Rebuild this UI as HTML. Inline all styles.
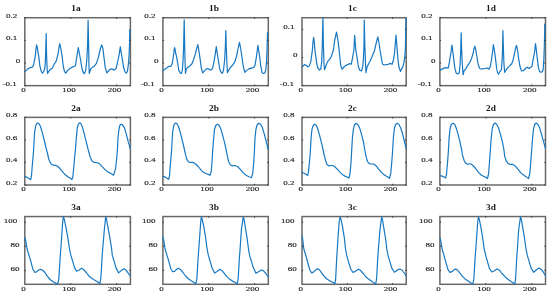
<!DOCTYPE html><html><head><meta charset="utf-8"><style>html,body{margin:0;padding:0;background:#fff;width:550px;height:295px;overflow:hidden}svg{display:block}text{font-family:"Liberation Serif",serif;fill:#1a1a1a;stroke:#1a1a1a;stroke-width:0.12px}text.t{stroke:none}</style></head><body>
<svg width="550" height="295" viewBox="0 0 550 295">
<rect width="550" height="295" fill="#fff"/><g>
<defs><clipPath id="c00"><rect x="24.20" y="17.13" width="106.80" height="69.13"/></clipPath><clipPath id="c01"><rect x="162.30" y="17.13" width="106.60" height="69.13"/></clipPath><clipPath id="c02"><rect x="301.40" y="17.13" width="105.40" height="69.13"/></clipPath><clipPath id="c03"><rect x="439.30" y="17.13" width="106.80" height="69.13"/></clipPath><clipPath id="c10"><rect x="24.20" y="116.76" width="106.80" height="68.84"/></clipPath><clipPath id="c11"><rect x="162.30" y="116.76" width="106.60" height="68.84"/></clipPath><clipPath id="c12"><rect x="301.40" y="116.76" width="105.40" height="68.84"/></clipPath><clipPath id="c13"><rect x="439.30" y="116.76" width="106.80" height="68.84"/></clipPath><clipPath id="c20"><rect x="24.20" y="215.95" width="106.80" height="68.95"/></clipPath><clipPath id="c21"><rect x="162.30" y="215.95" width="106.60" height="68.95"/></clipPath><clipPath id="c22"><rect x="301.40" y="215.95" width="105.40" height="68.95"/></clipPath><clipPath id="c23"><rect x="439.30" y="215.95" width="106.80" height="68.95"/></clipPath></defs>
<rect x="24.8" y="17.73" width="105.60" height="67.93" fill="none" stroke="#686868" stroke-width="1.5"/>
<polyline points="24.90,71.80 25.20,71.60 26.50,70.10 28.40,68.50 30.30,67.60 32.20,67.20 33.50,65.30 34.50,60.20 35.40,55.10 36.00,49.00 36.60,44.90 37.30,47.50 37.90,51.30 38.90,57.60 39.80,65.30 41.10,71.00 42.40,73.20 43.60,71.60 44.70,69.10 45.30,62.70 45.80,48.00 46.20,33.50 46.60,56.40 47.10,67.80 47.50,73.50 48.90,71.10 50.20,69.50 51.40,68.70 52.60,67.90 53.40,65.80 54.60,63.40 55.90,61.80 56.70,59.30 57.50,56.10 58.30,52.80 58.90,48.00 59.80,43.60 60.80,48.50 62.10,56.40 63.30,66.50 64.50,71.60 65.80,73.20 67.70,70.40 69.60,68.80 71.50,67.60 73.50,66.50 75.40,65.90 76.30,60.20 77.30,53.80 78.30,47.50 79.20,52.50 80.50,59.50 81.70,67.00 83.00,72.00 84.40,73.70 85.70,70.40 86.70,61.00 87.60,45.00 88.10,20.20 88.60,45.00 88.90,62.70 89.30,73.50 90.60,69.10 92.50,67.20 94.50,65.90 96.40,63.40 98.30,57.60 99.50,52.50 100.60,48.00 101.80,44.90 103.00,49.00 104.00,57.60 105.30,67.80 106.80,72.90 108.50,71.00 110.40,69.10 112.30,69.10 114.20,70.10 116.10,68.50 118.00,60.20 119.30,53.80 120.30,46.80 121.20,52.50 122.50,60.20 123.70,67.80 125.00,71.90 126.30,73.20 127.50,71.00 128.40,64.00 129.10,55.00 129.50,45.00 129.70,35.00 129.80,29.50" fill="none" stroke="#1778c2" stroke-width="1.2" stroke-linejoin="round" stroke-linecap="round" clip-path="url(#c00)"/>
<path d="M70.71,85.66v-1.2M70.71,17.73v1.2M116.63,85.66v-1.2M116.63,17.73v1.2M24.8,85.66h1.2M130.4,85.66h-1.2M24.8,63.02h1.2M130.4,63.02h-1.2M24.8,40.37h1.2M130.4,40.37h-1.2M24.8,17.73h1.2M130.4,17.73h-1.2" stroke="#1a1a1a" stroke-width="0.8" fill="none"/>
<text transform="translate(23.50,91.96) scale(1.43,1)" font-size="6.3" text-anchor="middle">0</text>
<text transform="translate(69.01,91.96) scale(1.43,1)" font-size="6.3" text-anchor="middle">100</text>
<text transform="translate(114.53,91.96) scale(1.43,1)" font-size="6.3" text-anchor="middle">200</text>
<text transform="translate(16.70,85.56) scale(1.43,1)" font-size="6.3" text-anchor="end">-0.1</text>
<text transform="translate(20.30,62.92) scale(1.43,1)" font-size="6.3" text-anchor="end">0</text>
<text transform="translate(17.30,40.27) scale(1.43,1)" font-size="6.3" text-anchor="end">0.1</text>
<text transform="translate(17.30,17.63) scale(1.43,1)" font-size="6.3" text-anchor="end">0.2</text>
<text class="t" transform="translate(75.90,10.93) scale(1.26,1)" font-size="7.4" text-anchor="middle" font-weight="bold">1a</text>
<rect x="162.9" y="17.73" width="105.40" height="67.93" fill="none" stroke="#686868" stroke-width="1.5"/>
<polyline points="162.90,70.60 163.20,70.40 165.10,69.10 167.00,67.80 168.90,66.30 170.80,66.50 172.10,64.00 173.00,58.90 173.70,53.80 174.20,49.50 174.60,47.50 175.10,49.50 175.50,52.50 176.50,56.40 177.60,62.70 178.80,70.40 180.40,73.20 181.30,73.50 182.30,70.40 182.90,62.70 183.60,48.00 184.20,19.80 184.70,48.00 185.10,62.70 185.50,73.50 186.30,69.10 188.00,67.20 189.90,65.90 191.80,64.00 193.30,60.20 195.00,55.10 196.30,50.00 197.80,44.70 198.80,50.00 200.10,58.90 201.30,68.00 202.70,72.90 204.50,70.80 206.40,68.80 207.80,68.50 209.80,69.70 211.50,70.00 212.70,67.80 214.00,61.50 215.30,53.80 216.30,46.60 217.20,53.00 218.40,60.50 219.60,68.50 220.90,72.00 222.30,73.30 223.50,70.40 224.60,60.20 225.30,48.00 225.80,30.50 226.30,48.00 226.90,62.70 227.40,72.70 228.60,70.40 230.50,67.20 232.50,65.30 234.40,62.70 236.00,58.30 237.30,52.50 238.20,48.00 239.50,42.40 240.70,48.50 242.00,57.60 243.30,66.50 244.80,72.30 246.50,70.60 248.40,69.10 250.90,68.10 253.50,67.60 255.00,65.30 256.30,57.60 257.30,50.00 257.90,45.30 258.60,50.00 259.80,57.60 260.80,66.50 262.10,72.70 263.60,73.50 264.90,72.90 265.90,69.10 266.60,60.20 267.00,50.00 267.30,40.00 267.50,32.50" fill="none" stroke="#1778c2" stroke-width="1.2" stroke-linejoin="round" stroke-linecap="round" clip-path="url(#c01)"/>
<path d="M208.73,85.66v-1.2M208.73,17.73v1.2M254.55,85.66v-1.2M254.55,17.73v1.2M162.9,85.66h1.2M268.3,85.66h-1.2M162.9,63.02h1.2M268.3,63.02h-1.2M162.9,40.37h1.2M268.3,40.37h-1.2M162.9,17.73h1.2M268.3,17.73h-1.2" stroke="#1a1a1a" stroke-width="0.8" fill="none"/>
<text transform="translate(161.60,91.96) scale(1.43,1)" font-size="6.3" text-anchor="middle">0</text>
<text transform="translate(207.03,91.96) scale(1.43,1)" font-size="6.3" text-anchor="middle">100</text>
<text transform="translate(252.45,91.96) scale(1.43,1)" font-size="6.3" text-anchor="middle">200</text>
<text transform="translate(154.80,85.56) scale(1.43,1)" font-size="6.3" text-anchor="end">-0.1</text>
<text transform="translate(158.40,62.92) scale(1.43,1)" font-size="6.3" text-anchor="end">0</text>
<text transform="translate(155.40,40.27) scale(1.43,1)" font-size="6.3" text-anchor="end">0.1</text>
<text transform="translate(155.40,17.63) scale(1.43,1)" font-size="6.3" text-anchor="end">0.2</text>
<text class="t" transform="translate(213.90,10.93) scale(1.26,1)" font-size="7.4" text-anchor="middle" font-weight="bold">1b</text>
<rect x="302.0" y="17.73" width="104.20" height="67.93" fill="none" stroke="#686868" stroke-width="1.5"/>
<polyline points="302.00,67.30 302.20,67.20 303.50,65.50 304.70,64.60 306.00,65.30 307.90,66.80 309.20,65.90 310.70,62.10 311.70,55.10 312.40,50.00 313.00,42.00 313.60,37.30 314.30,42.00 314.90,50.00 315.80,56.40 316.80,64.00 318.10,68.50 319.60,70.10 320.90,68.50 321.70,61.50 322.30,45.00 322.90,17.50 323.40,45.00 323.90,61.50 324.50,69.70 325.70,66.50 327.30,62.10 328.90,60.20 330.80,57.60 332.30,53.80 333.40,50.00 334.80,40.00 336.50,32.20 337.90,40.00 339.10,50.00 340.00,58.50 340.80,66.00 342.20,69.30 343.70,67.20 345.60,65.50 347.50,64.60 349.50,63.70 351.30,64.20 352.60,57.60 353.90,50.00 354.70,35.40 355.80,50.00 357.10,57.60 358.40,66.50 359.60,70.10 361.50,71.00 362.80,66.50 363.50,57.60 364.00,45.00 364.30,20.10 364.80,45.00 365.50,62.70 366.00,72.70 367.00,67.20 368.50,64.00 370.50,60.20 372.40,55.70 374.30,51.30 376.00,44.00 377.80,36.90 379.00,43.00 380.00,50.00 381.30,57.60 382.50,64.00 384.10,65.00 386.40,64.60 388.30,64.30 390.20,63.40 392.10,64.30 393.40,60.20 394.60,52.50 396.00,35.10 397.20,50.00 397.80,57.60 398.80,66.50 400.40,71.40 401.60,69.10 402.90,66.50 403.90,62.70 404.80,57.00 405.40,48.00 405.70,35.00 405.90,17.80" fill="none" stroke="#1778c2" stroke-width="1.2" stroke-linejoin="round" stroke-linecap="round" clip-path="url(#c02)"/>
<path d="M347.30,85.66v-1.2M347.30,17.73v1.2M392.61,85.66v-1.2M392.61,17.73v1.2M302.0,85.66h1.2M406.2,85.66h-1.2M302.0,57.47h1.2M406.2,57.47h-1.2M302.0,29.29h1.2M406.2,29.29h-1.2" stroke="#1a1a1a" stroke-width="0.8" fill="none"/>
<text transform="translate(300.70,91.96) scale(1.43,1)" font-size="6.3" text-anchor="middle">0</text>
<text transform="translate(345.60,91.96) scale(1.43,1)" font-size="6.3" text-anchor="middle">100</text>
<text transform="translate(390.51,91.96) scale(1.43,1)" font-size="6.3" text-anchor="middle">200</text>
<text transform="translate(293.90,85.56) scale(1.43,1)" font-size="6.3" text-anchor="end">-0.1</text>
<text transform="translate(297.50,57.37) scale(1.43,1)" font-size="6.3" text-anchor="end">0</text>
<text transform="translate(294.50,29.19) scale(1.43,1)" font-size="6.3" text-anchor="end">0.1</text>
<text class="t" transform="translate(352.40,10.93) scale(1.26,1)" font-size="7.4" text-anchor="middle" font-weight="bold">1c</text>
<rect x="439.9" y="17.73" width="105.60" height="67.93" fill="none" stroke="#686868" stroke-width="1.5"/>
<polyline points="439.90,70.30 440.20,70.10 442.10,69.10 444.00,68.10 445.90,67.60 448.20,68.10 449.10,64.00 450.10,57.60 451.00,52.50 451.50,48.00 451.90,45.20 452.40,48.00 452.90,52.50 453.90,60.20 454.80,67.80 456.10,72.90 457.70,73.90 459.30,72.70 460.20,62.70 460.80,48.00 461.20,32.80 461.60,48.00 462.20,62.70 463.10,74.80 464.00,71.00 465.60,69.10 467.50,65.90 469.50,62.70 471.40,58.90 473.00,53.80 473.90,49.00 474.80,46.20 475.80,50.00 477.10,58.00 478.30,65.00 479.70,68.50 480.90,69.00 482.50,68.90 484.60,68.50 487.00,68.00 489.10,69.10 490.40,66.00 491.60,59.00 492.70,51.00 493.40,44.70 494.50,51.00 495.50,58.50 496.50,67.50 497.50,72.50 498.60,74.20 499.90,71.60 501.40,69.70 502.10,60.20 502.60,48.00 502.90,30.50 503.40,48.00 503.90,62.70 504.60,72.30 506.30,69.70 508.20,67.20 510.10,65.30 511.60,64.00 512.90,60.80 514.20,55.10 515.40,49.00 516.50,45.30 517.50,50.00 518.70,58.90 520.00,66.50 521.50,71.00 523.50,70.60 525.40,68.50 527.30,67.20 528.90,68.50 530.50,67.20 532.00,66.50 533.00,60.20 534.30,53.80 535.00,48.00 535.50,43.60 536.10,48.00 536.60,52.50 537.50,60.20 538.50,67.80 539.60,71.60 541.30,72.30 542.50,71.50 543.20,69.00 543.80,60.00 544.30,47.00 544.60,35.00 544.70,24.00" fill="none" stroke="#1778c2" stroke-width="1.2" stroke-linejoin="round" stroke-linecap="round" clip-path="url(#c03)"/>
<path d="M485.81,85.66v-1.2M485.81,17.73v1.2M531.73,85.66v-1.2M531.73,17.73v1.2M439.9,85.66h1.2M545.5,85.66h-1.2M439.9,63.02h1.2M545.5,63.02h-1.2M439.9,40.37h1.2M545.5,40.37h-1.2M439.9,17.73h1.2M545.5,17.73h-1.2" stroke="#1a1a1a" stroke-width="0.8" fill="none"/>
<text transform="translate(438.60,91.96) scale(1.43,1)" font-size="6.3" text-anchor="middle">0</text>
<text transform="translate(484.11,91.96) scale(1.43,1)" font-size="6.3" text-anchor="middle">100</text>
<text transform="translate(529.63,91.96) scale(1.43,1)" font-size="6.3" text-anchor="middle">200</text>
<text transform="translate(431.80,85.56) scale(1.43,1)" font-size="6.3" text-anchor="end">-0.1</text>
<text transform="translate(435.40,62.92) scale(1.43,1)" font-size="6.3" text-anchor="end">0</text>
<text transform="translate(432.40,40.27) scale(1.43,1)" font-size="6.3" text-anchor="end">0.1</text>
<text transform="translate(432.40,17.63) scale(1.43,1)" font-size="6.3" text-anchor="end">0.2</text>
<text class="t" transform="translate(491.00,10.93) scale(1.26,1)" font-size="7.4" text-anchor="middle" font-weight="bold">1d</text>
<rect x="24.8" y="117.36" width="105.60" height="67.64" fill="none" stroke="#686868" stroke-width="1.5"/>
<polyline points="24.90,176.30 27.10,177.40 29.00,178.60 30.70,179.70 31.50,175.50 32.20,166.50 33.10,156.40 33.60,150.00 34.10,140.50 34.70,131.50 35.70,125.80 37.00,123.30 37.90,123.00 39.20,123.90 40.50,126.50 42.40,132.80 44.30,140.50 46.20,148.50 47.40,153.00 48.70,158.90 50.30,162.70 51.90,164.60 53.80,165.30 55.70,165.30 57.60,166.30 60.20,168.80 62.70,171.90 65.30,174.80 67.80,176.70 70.40,178.30 72.00,179.40 72.90,176.50 73.60,169.00 74.20,162.70 74.80,155.10 75.40,150.00 76.30,137.90 77.30,127.70 78.50,123.90 79.80,122.80 81.10,123.90 82.40,127.10 84.30,134.10 86.20,141.70 88.10,149.40 89.00,152.50 90.00,156.40 91.90,160.80 93.80,162.30 96.40,162.50 98.90,163.40 101.50,165.90 104.60,169.10 107.80,171.90 111.00,173.50 113.50,175.20 115.50,169.10 116.50,160.20 117.40,150.00 118.00,137.90 119.00,129.00 119.90,125.20 121.20,124.20 122.50,124.90 124.40,127.70 126.30,134.10 128.20,141.70 130.40,149.00" fill="none" stroke="#1778c2" stroke-width="1.2" stroke-linejoin="round" stroke-linecap="round" clip-path="url(#c10)"/>
<path d="M70.71,185.0v-1.2M70.71,117.36v1.2M116.63,185.0v-1.2M116.63,117.36v1.2M24.8,185.00h1.2M130.4,185.00h-1.2M24.8,162.45h1.2M130.4,162.45h-1.2M24.8,139.91h1.2M130.4,139.91h-1.2M24.8,117.36h1.2M130.4,117.36h-1.2" stroke="#1a1a1a" stroke-width="0.8" fill="none"/>
<text transform="translate(23.50,191.30) scale(1.43,1)" font-size="6.3" text-anchor="middle">0</text>
<text transform="translate(69.01,191.30) scale(1.43,1)" font-size="6.3" text-anchor="middle">100</text>
<text transform="translate(114.53,191.30) scale(1.43,1)" font-size="6.3" text-anchor="middle">200</text>
<text transform="translate(17.30,184.90) scale(1.43,1)" font-size="6.3" text-anchor="end">0.2</text>
<text transform="translate(17.30,162.35) scale(1.43,1)" font-size="6.3" text-anchor="end">0.4</text>
<text transform="translate(17.30,139.81) scale(1.43,1)" font-size="6.3" text-anchor="end">0.6</text>
<text transform="translate(17.30,117.26) scale(1.43,1)" font-size="6.3" text-anchor="end">0.8</text>
<text class="t" transform="translate(75.90,110.56) scale(1.26,1)" font-size="7.4" text-anchor="middle" font-weight="bold">2a</text>
<rect x="162.9" y="117.36" width="105.40" height="67.64" fill="none" stroke="#686868" stroke-width="1.5"/>
<polyline points="162.90,176.10 165.10,177.10 167.00,178.30 168.70,179.30 169.50,175.50 170.20,166.50 171.20,155.10 171.60,150.00 172.10,140.50 172.70,131.50 173.70,125.80 175.00,123.30 175.90,123.00 177.20,123.90 178.50,126.50 180.40,132.80 182.30,140.50 184.20,148.50 185.50,154.50 186.70,158.90 188.30,161.70 189.90,162.50 191.80,162.30 193.70,162.70 195.60,164.00 198.20,166.50 200.70,169.70 203.30,172.30 205.80,173.50 208.40,174.40 210.10,175.30 211.20,171.60 212.00,162.00 212.70,150.00 213.70,137.90 214.60,129.00 215.90,125.20 217.60,124.20 219.10,125.20 220.60,128.40 222.70,135.40 224.80,143.60 226.30,150.50 227.40,156.40 228.60,161.50 230.50,165.00 232.50,165.90 235.00,165.50 237.50,166.50 240.10,169.10 243.30,172.90 246.50,175.50 249.00,176.70 251.50,177.70 252.80,172.90 253.70,162.70 254.40,152.00 255.00,137.90 256.00,129.00 257.30,124.50 258.80,123.30 260.50,124.20 262.40,127.70 264.30,134.10 266.20,141.70 268.30,149.50" fill="none" stroke="#1778c2" stroke-width="1.2" stroke-linejoin="round" stroke-linecap="round" clip-path="url(#c11)"/>
<path d="M208.73,185.0v-1.2M208.73,117.36v1.2M254.55,185.0v-1.2M254.55,117.36v1.2M162.9,185.00h1.2M268.3,185.00h-1.2M162.9,162.45h1.2M268.3,162.45h-1.2M162.9,139.91h1.2M268.3,139.91h-1.2M162.9,117.36h1.2M268.3,117.36h-1.2" stroke="#1a1a1a" stroke-width="0.8" fill="none"/>
<text transform="translate(161.60,191.30) scale(1.43,1)" font-size="6.3" text-anchor="middle">0</text>
<text transform="translate(207.03,191.30) scale(1.43,1)" font-size="6.3" text-anchor="middle">100</text>
<text transform="translate(252.45,191.30) scale(1.43,1)" font-size="6.3" text-anchor="middle">200</text>
<text transform="translate(155.40,184.90) scale(1.43,1)" font-size="6.3" text-anchor="end">0.2</text>
<text transform="translate(155.40,162.35) scale(1.43,1)" font-size="6.3" text-anchor="end">0.4</text>
<text transform="translate(155.40,139.81) scale(1.43,1)" font-size="6.3" text-anchor="end">0.6</text>
<text transform="translate(155.40,117.26) scale(1.43,1)" font-size="6.3" text-anchor="end">0.8</text>
<text class="t" transform="translate(213.90,110.56) scale(1.26,1)" font-size="7.4" text-anchor="middle" font-weight="bold">2b</text>
<rect x="302.0" y="117.36" width="104.20" height="67.64" fill="none" stroke="#686868" stroke-width="1.5"/>
<polyline points="302.00,172.30 304.10,173.20 306.00,174.20 307.70,175.50 308.50,171.60 309.40,162.70 310.30,152.00 311.10,137.90 312.00,129.00 313.30,125.20 314.70,124.20 316.20,125.20 317.80,129.00 319.60,135.40 321.70,143.60 323.30,151.00 324.20,155.10 325.50,160.20 327.00,164.60 328.90,165.90 330.80,165.50 332.70,165.50 334.60,166.50 337.20,169.10 339.70,171.90 342.30,174.40 344.80,176.10 347.10,177.00 348.90,178.10 350.10,173.00 351.00,162.70 351.60,152.00 352.40,137.90 353.40,129.00 354.50,124.70 356.05,123.30 357.60,124.20 359.55,127.70 361.45,134.10 363.40,141.70 364.80,150.00 366.00,156.40 367.50,161.50 369.20,163.70 371.10,164.00 373.60,164.00 376.20,165.90 378.70,169.10 381.90,172.90 385.10,175.50 387.60,176.70 389.50,178.30 390.80,172.90 391.70,162.70 392.50,152.50 393.40,137.90 394.30,129.00 395.50,124.50 397.20,123.30 398.80,124.20 400.60,127.70 402.30,132.80 404.20,140.50 406.20,148.50" fill="none" stroke="#1778c2" stroke-width="1.2" stroke-linejoin="round" stroke-linecap="round" clip-path="url(#c12)"/>
<path d="M347.30,185.0v-1.2M347.30,117.36v1.2M392.61,185.0v-1.2M392.61,117.36v1.2M302.0,185.00h1.2M406.2,185.00h-1.2M302.0,162.45h1.2M406.2,162.45h-1.2M302.0,139.91h1.2M406.2,139.91h-1.2M302.0,117.36h1.2M406.2,117.36h-1.2" stroke="#1a1a1a" stroke-width="0.8" fill="none"/>
<text transform="translate(300.70,191.30) scale(1.43,1)" font-size="6.3" text-anchor="middle">0</text>
<text transform="translate(345.60,191.30) scale(1.43,1)" font-size="6.3" text-anchor="middle">100</text>
<text transform="translate(390.51,191.30) scale(1.43,1)" font-size="6.3" text-anchor="middle">200</text>
<text transform="translate(294.50,184.90) scale(1.43,1)" font-size="6.3" text-anchor="end">0.2</text>
<text transform="translate(294.50,162.35) scale(1.43,1)" font-size="6.3" text-anchor="end">0.4</text>
<text transform="translate(294.50,139.81) scale(1.43,1)" font-size="6.3" text-anchor="end">0.6</text>
<text transform="translate(294.50,117.26) scale(1.43,1)" font-size="6.3" text-anchor="end">0.8</text>
<text class="t" transform="translate(352.40,110.56) scale(1.26,1)" font-size="7.4" text-anchor="middle" font-weight="bold">2c</text>
<rect x="439.9" y="117.36" width="105.60" height="67.64" fill="none" stroke="#686868" stroke-width="1.5"/>
<polyline points="439.90,175.50 442.10,176.10 444.00,177.00 445.70,178.00 446.50,174.20 447.40,164.00 448.30,152.50 449.10,137.90 450.00,129.00 451.30,124.50 452.90,123.30 454.60,124.20 456.10,127.70 458.00,134.10 459.90,141.70 461.60,149.50 462.50,155.10 464.00,160.20 465.60,163.10 467.50,164.30 469.50,163.70 471.40,164.30 473.90,166.50 476.50,169.70 479.00,172.90 481.50,175.20 484.10,176.50 486.00,177.40 487.50,178.50 488.60,173.50 489.40,163.50 490.20,152.50 491.20,137.90 492.20,129.00 493.40,124.50 495.00,123.00 496.65,124.20 498.45,127.70 500.40,134.10 502.35,141.70 503.80,149.00 504.70,156.40 506.30,161.20 508.20,163.70 510.30,164.30 512.60,164.30 515.20,165.90 517.70,168.80 520.90,172.90 524.10,175.50 526.60,177.10 528.50,178.60 529.80,173.50 530.70,162.70 531.50,152.50 532.60,137.90 533.50,129.00 534.70,124.50 536.20,123.00 537.80,124.20 539.60,127.70 541.50,134.10 543.40,141.10 545.50,148.70" fill="none" stroke="#1778c2" stroke-width="1.2" stroke-linejoin="round" stroke-linecap="round" clip-path="url(#c13)"/>
<path d="M485.81,185.0v-1.2M485.81,117.36v1.2M531.73,185.0v-1.2M531.73,117.36v1.2M439.9,185.00h1.2M545.5,185.00h-1.2M439.9,162.45h1.2M545.5,162.45h-1.2M439.9,139.91h1.2M545.5,139.91h-1.2M439.9,117.36h1.2M545.5,117.36h-1.2" stroke="#1a1a1a" stroke-width="0.8" fill="none"/>
<text transform="translate(438.60,191.30) scale(1.43,1)" font-size="6.3" text-anchor="middle">0</text>
<text transform="translate(484.11,191.30) scale(1.43,1)" font-size="6.3" text-anchor="middle">100</text>
<text transform="translate(529.63,191.30) scale(1.43,1)" font-size="6.3" text-anchor="middle">200</text>
<text transform="translate(432.40,184.90) scale(1.43,1)" font-size="6.3" text-anchor="end">0.2</text>
<text transform="translate(432.40,162.35) scale(1.43,1)" font-size="6.3" text-anchor="end">0.4</text>
<text transform="translate(432.40,139.81) scale(1.43,1)" font-size="6.3" text-anchor="end">0.6</text>
<text transform="translate(432.40,117.26) scale(1.43,1)" font-size="6.3" text-anchor="end">0.8</text>
<text class="t" transform="translate(491.00,110.56) scale(1.26,1)" font-size="7.4" text-anchor="middle" font-weight="bold">2d</text>
<rect x="24.8" y="216.55" width="105.60" height="67.75" fill="none" stroke="#686868" stroke-width="1.5"/>
<polyline points="24.90,237.50 25.80,241.00 27.10,249.00 29.00,255.40 30.90,261.70 32.80,269.00 34.70,272.30 36.60,271.90 38.50,270.00 40.50,269.40 42.40,270.00 44.90,272.50 47.50,276.40 50.00,279.50 53.20,281.80 55.70,283.10 57.60,284.00 58.90,278.30 59.50,268.00 60.20,256.60 60.80,249.00 61.80,235.00 62.70,222.00 63.40,216.80 64.20,219.00 65.80,226.70 67.70,236.90 69.60,249.60 70.90,255.40 72.80,261.70 74.70,268.10 76.60,271.30 79.20,270.00 81.70,268.30 83.60,269.40 86.20,272.50 88.70,275.70 91.30,278.00 94.50,279.90 97.00,281.50 99.80,283.60 100.80,278.30 101.50,268.10 102.10,256.60 102.70,249.00 104.50,228.00 105.70,216.80 106.50,219.00 107.80,226.70 109.70,236.90 111.60,248.40 112.30,255.40 114.20,261.70 116.10,268.10 118.60,272.90 121.20,270.60 124.10,268.70 126.30,270.40 128.20,273.20 130.40,276.00" fill="none" stroke="#1778c2" stroke-width="1.2" stroke-linejoin="round" stroke-linecap="round" clip-path="url(#c20)"/>
<path d="M70.71,284.3v-1.2M70.71,216.55v1.2M116.63,284.3v-1.2M116.63,216.55v1.2M24.8,270.34h1.2M130.4,270.34h-1.2M24.8,246.27h1.2M130.4,246.27h-1.2M24.8,222.21h1.2M130.4,222.21h-1.2" stroke="#1a1a1a" stroke-width="0.8" fill="none"/>
<text transform="translate(23.50,290.60) scale(1.43,1)" font-size="6.3" text-anchor="middle">0</text>
<text transform="translate(69.01,290.60) scale(1.43,1)" font-size="6.3" text-anchor="middle">100</text>
<text transform="translate(114.53,290.60) scale(1.43,1)" font-size="6.3" text-anchor="middle">200</text>
<text transform="translate(19.50,270.74) scale(1.43,1)" font-size="6.3" text-anchor="end">60</text>
<text transform="translate(19.50,246.67) scale(1.43,1)" font-size="6.3" text-anchor="end">80</text>
<text transform="translate(17.30,222.61) scale(1.43,1)" font-size="6.3" text-anchor="end">100</text>
<text class="t" transform="translate(75.90,209.75) scale(1.26,1)" font-size="7.4" text-anchor="middle" font-weight="bold">3a</text>
<rect x="162.9" y="216.55" width="105.40" height="67.75" fill="none" stroke="#686868" stroke-width="1.5"/>
<polyline points="162.90,236.90 163.90,241.00 165.10,249.00 167.00,255.40 168.90,261.70 170.80,268.70 172.70,271.70 174.60,271.30 176.50,269.40 178.50,268.30 180.40,269.40 182.90,272.50 185.50,276.00 188.00,278.50 191.20,280.80 193.70,282.30 195.90,283.80 196.90,278.30 197.50,268.10 198.20,256.60 198.80,249.00 199.80,235.00 200.70,222.00 201.40,216.80 202.20,219.50 203.80,226.70 205.70,238.20 207.00,248.50 208.40,255.40 210.20,261.70 212.10,268.10 214.60,273.00 217.00,271.50 219.90,269.30 221.80,270.40 224.30,273.40 226.70,276.40 229.30,278.90 232.50,281.10 235.00,282.30 237.20,284.00 238.20,278.30 238.80,268.10 239.50,256.60 240.10,249.00 241.40,229.30 243.30,216.80 244.10,219.50 245.20,226.70 247.10,238.20 248.50,249.00 249.60,255.40 251.50,261.70 253.50,268.10 256.00,273.20 258.50,271.70 261.30,270.00 263.60,270.90 265.50,273.20 268.30,277.00" fill="none" stroke="#1778c2" stroke-width="1.2" stroke-linejoin="round" stroke-linecap="round" clip-path="url(#c21)"/>
<path d="M208.73,284.3v-1.2M208.73,216.55v1.2M254.55,284.3v-1.2M254.55,216.55v1.2M162.9,270.34h1.2M268.3,270.34h-1.2M162.9,246.27h1.2M268.3,246.27h-1.2M162.9,222.21h1.2M268.3,222.21h-1.2" stroke="#1a1a1a" stroke-width="0.8" fill="none"/>
<text transform="translate(161.60,290.60) scale(1.43,1)" font-size="6.3" text-anchor="middle">0</text>
<text transform="translate(207.03,290.60) scale(1.43,1)" font-size="6.3" text-anchor="middle">100</text>
<text transform="translate(252.45,290.60) scale(1.43,1)" font-size="6.3" text-anchor="middle">200</text>
<text transform="translate(157.60,270.74) scale(1.43,1)" font-size="6.3" text-anchor="end">60</text>
<text transform="translate(157.60,246.67) scale(1.43,1)" font-size="6.3" text-anchor="end">80</text>
<text transform="translate(155.40,222.61) scale(1.43,1)" font-size="6.3" text-anchor="end">100</text>
<text class="t" transform="translate(213.90,209.75) scale(1.26,1)" font-size="7.4" text-anchor="middle" font-weight="bold">3b</text>
<rect x="302.0" y="216.55" width="104.20" height="67.75" fill="none" stroke="#686868" stroke-width="1.5"/>
<polyline points="302.00,235.50 302.80,240.00 303.80,249.00 306.00,256.00 307.90,263.00 309.80,270.00 311.70,272.90 314.00,271.70 316.20,269.40 317.80,268.70 319.60,270.00 321.90,273.40 324.50,276.70 327.30,279.30 330.20,281.10 332.70,282.30 334.90,283.80 335.70,278.30 336.20,268.10 336.80,256.60 337.30,249.00 338.20,235.00 339.20,222.00 340.10,216.80 341.00,219.50 342.50,226.70 344.40,238.20 345.50,249.00 346.80,255.70 348.70,262.40 350.60,268.70 353.00,272.50 355.60,271.10 358.50,269.20 360.70,270.60 363.20,273.50 366.00,277.00 369.20,279.50 372.40,281.80 375.80,284.00 376.60,278.30 377.20,268.10 377.80,256.60 378.40,249.00 380.00,229.30 381.70,216.80 382.50,219.50 383.60,226.70 385.50,238.20 386.80,249.00 388.00,255.40 389.90,261.70 391.80,268.10 394.40,272.20 396.80,270.40 399.70,269.00 402.00,270.00 403.90,272.50 406.20,276.00" fill="none" stroke="#1778c2" stroke-width="1.2" stroke-linejoin="round" stroke-linecap="round" clip-path="url(#c22)"/>
<path d="M347.30,284.3v-1.2M347.30,216.55v1.2M392.61,284.3v-1.2M392.61,216.55v1.2M302.0,270.34h1.2M406.2,270.34h-1.2M302.0,246.27h1.2M406.2,246.27h-1.2M302.0,222.21h1.2M406.2,222.21h-1.2" stroke="#1a1a1a" stroke-width="0.8" fill="none"/>
<text transform="translate(300.70,290.60) scale(1.43,1)" font-size="6.3" text-anchor="middle">0</text>
<text transform="translate(345.60,290.60) scale(1.43,1)" font-size="6.3" text-anchor="middle">100</text>
<text transform="translate(390.51,290.60) scale(1.43,1)" font-size="6.3" text-anchor="middle">200</text>
<text transform="translate(296.70,270.74) scale(1.43,1)" font-size="6.3" text-anchor="end">60</text>
<text transform="translate(296.70,246.67) scale(1.43,1)" font-size="6.3" text-anchor="end">80</text>
<text transform="translate(294.50,222.61) scale(1.43,1)" font-size="6.3" text-anchor="end">100</text>
<text class="t" transform="translate(352.40,209.75) scale(1.26,1)" font-size="7.4" text-anchor="middle" font-weight="bold">3c</text>
<rect x="439.9" y="216.55" width="105.60" height="67.75" fill="none" stroke="#686868" stroke-width="1.5"/>
<polyline points="439.90,237.50 440.80,241.00 442.10,249.00 444.00,255.40 445.90,262.40 447.80,269.10 449.70,272.30 452.00,271.70 454.20,269.60 455.80,269.10 457.60,270.00 459.90,273.20 462.50,276.40 465.30,279.20 468.20,281.10 470.70,282.70 472.90,284.00 473.90,278.30 474.50,268.10 475.20,256.60 475.80,249.00 476.80,235.00 477.70,222.00 478.50,216.80 479.30,219.50 480.80,226.70 482.70,238.20 484.30,249.50 485.80,255.70 487.70,262.50 489.60,268.80 491.90,272.00 494.30,270.70 497.10,268.90 499.40,270.20 502.00,273.50 505.00,276.70 508.20,279.50 511.40,281.80 514.80,284.00 515.60,278.30 516.20,268.10 516.80,256.60 517.40,249.00 518.70,229.30 520.50,216.80 521.30,219.50 522.60,226.70 524.50,238.20 526.00,249.00 527.30,255.40 529.20,261.70 531.10,268.10 533.60,272.30 536.20,270.00 539.10,268.10 541.30,269.40 543.20,271.90 545.50,275.70" fill="none" stroke="#1778c2" stroke-width="1.2" stroke-linejoin="round" stroke-linecap="round" clip-path="url(#c23)"/>
<path d="M485.81,284.3v-1.2M485.81,216.55v1.2M531.73,284.3v-1.2M531.73,216.55v1.2M439.9,270.34h1.2M545.5,270.34h-1.2M439.9,246.27h1.2M545.5,246.27h-1.2M439.9,222.21h1.2M545.5,222.21h-1.2" stroke="#1a1a1a" stroke-width="0.8" fill="none"/>
<text transform="translate(438.60,290.60) scale(1.43,1)" font-size="6.3" text-anchor="middle">0</text>
<text transform="translate(484.11,290.60) scale(1.43,1)" font-size="6.3" text-anchor="middle">100</text>
<text transform="translate(529.63,290.60) scale(1.43,1)" font-size="6.3" text-anchor="middle">200</text>
<text transform="translate(434.60,270.74) scale(1.43,1)" font-size="6.3" text-anchor="end">60</text>
<text transform="translate(434.60,246.67) scale(1.43,1)" font-size="6.3" text-anchor="end">80</text>
<text transform="translate(432.40,222.61) scale(1.43,1)" font-size="6.3" text-anchor="end">100</text>
<text class="t" transform="translate(491.00,209.75) scale(1.26,1)" font-size="7.4" text-anchor="middle" font-weight="bold">3d</text>
</g></svg></body></html>
